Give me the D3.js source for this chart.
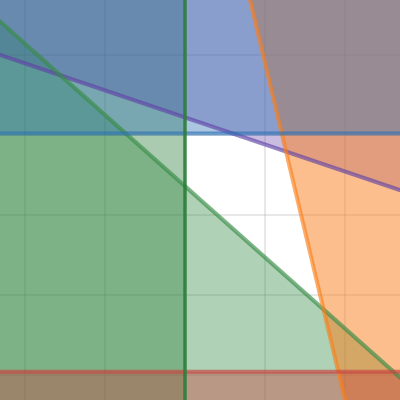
<!DOCTYPE html>
<html><head><meta charset="utf-8">
<script src="https://cdn.jsdelivr.net/npm/d3@7"></script>
<style>body{margin:0}svg{display:block}</style>
</head><body>
<svg id="chart" width="400" height="400"></svg>
<script>
// inequalities: y >= / <= m*x + b, or vertical x <= c
var lineNames = ["purple", "green", "orange", "blue", "red"];
var slopes =     [-0.338, -0.89, -4.21, 0, 0];
var intercepts = [3.22, 2.36, 8.11, 3.02, 0.04];
var sides =      ["above", "below", "above", "above", "below"];
var colors =     ["#6042a6", "#388c46", "#fa7e19", "#2d70b3", "#c74440"];
var fillAlpha =  [0.35, 0.4, 0.5, 0.4, 0.4];
var verticalX = 0, verticalColor = "#2d7d3a";
var gridX = [-2, -1, 0, 1, 2], gridY = [0, 1, 2, 3, 4];

var width = 400, height = 400;
var x = d3.scaleLinear().domain([-185 / 80, 215 / 80]).range([0, width]);
var y = d3.scaleLinear().domain([-25 / 80, 375 / 80]).range([height, 0]);
var svg = d3.select("#chart");
svg.append("rect").attr("width", width).attr("height", height).attr("fill", "#fff");

svg.append("g").selectAll("line").data(gridX).enter().append("line")
    .attr("x1", d => x(d)).attr("x2", d => x(d)).attr("y1", 0).attr("y2", height)
    .attr("stroke", "#999").attr("stroke-opacity", 0.45);
svg.append("g").selectAll("line").data(gridY).enter().append("line")
    .attr("y1", d => y(d)).attr("y2", d => y(d)).attr("x1", 0).attr("x2", width)
    .attr("stroke", "#999").attr("stroke-opacity", 0.45);

var x0 = -20, x1 = 20;
var fills = svg.append("g"), strokes = svg.append("g");
// vertical green: x <= 0
fills.append("rect").attr("x", 0).attr("y", 0)
    .attr("width", x(verticalX)).attr("height", height)
    .attr("fill", verticalColor).attr("fill-opacity", 0.4);

lineNames.forEach(function(n, i) {
  var m = slopes[i], b = intercepts[i];
  var far = sides[i] == "above" ? 1000 : -1000;
  var pts = [[x0, m * x0 + b], [x1, m * x1 + b], [x1, far], [x0, far]];
  fills.append("path")
      .attr("d", "M" + pts.map(p => x(p[0]) + "," + y(p[1])).join("L") + "Z")
      .attr("fill", colors[i]).attr("fill-opacity", fillAlpha[i]);
  strokes.append("line")
      .attr("x1", x(x0)).attr("y1", y(m * x0 + b))
      .attr("x2", x(x1)).attr("y2", y(m * x1 + b))
      .attr("stroke", colors[i]).attr("stroke-width", 4).attr("stroke-opacity", 0.65);
});
strokes.append("line").attr("x1", x(verticalX)).attr("x2", x(verticalX))
    .attr("y1", 0).attr("y2", height)
    .attr("stroke", verticalColor).attr("stroke-width", 3.5).attr("stroke-opacity", 0.9);
</script>
</body></html>
